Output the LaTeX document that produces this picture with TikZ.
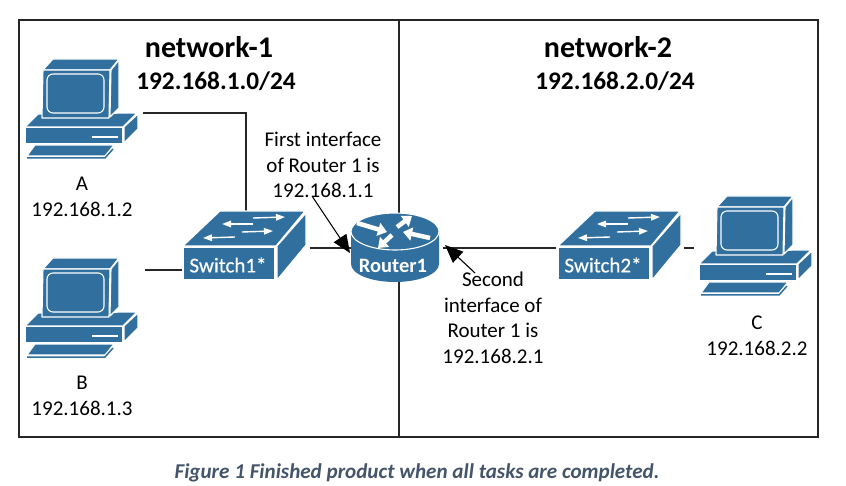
\documentclass[tikz,border=0pt]{standalone}
\usepackage{fontspec}
\setmainfont{Carlito}
\newfontfamily\devfont[FakeBold=0.5]{Carlito}
\usetikzlibrary{arrows.meta}
\definecolor{netblue}{HTML}{31709E}
\definecolor{captionblue}{HTML}{44546A}
\tikzset{
  face/.style={fill=netblue, draw=white, line width=1.1pt, line join=round},
  label/.style={font=\fontsize{21}{25.5}\selectfont, align=center, text=black},
  title/.style={font=\fontsize{30}{34}\selectfont\bfseries},
  subtitle/.style={font=\fontsize{25.3}{30}\selectfont\bfseries},
  link/.style={line width=1.1pt, draw=black!85},
  pointer/.style={line width=1.1pt, -{Triangle[length=18pt,width=15pt]}},
  swarrow/.style={draw=white, line width=1.4pt, -{Triangle[length=9pt,width=6.5pt]}},
  rtarrow/.style={draw=white, line width=4.5pt, -{Triangle[length=9pt,width=13pt]}},
  computer/.pic={
    \draw[face] (0,68) -- (13,55) -- (112,54) -- (98,68) -- cycle;
    \draw[face] (0,68.5) rectangle (98,85);
    \draw[face] (99,68) -- (113,55) -- (113,70) -- (99,84) -- cycle;
    \draw[white, line width=1.5pt] (67,78) -- (93,78);
    \draw[face] (18,11) -- (28,0) -- (94,0) -- (85,11) -- cycle;
    \draw[face] (18,11) -- (85,11) -- (84,59) -- (17,59) -- cycle;
    \draw[face] (86,11) -- (94,1) -- (94,49) -- (85,58) -- cycle;
    \draw[white, line width=1.1pt, rounded corners=6pt] (22,15) rectangle (79,54);
    \draw[face] (10,86) -- (89,86) -- (80,97) -- (2,97) -- cycle;
    \draw[netblue, line width=1.5pt] (2,99) -- (80,99) -- (88,90);
  },
  switchbox/.pic={
    \draw[face] (0,0) -- (37,-35) -- (122,-35) -- (93,0) -- cycle;
    \draw[face] (0,1) rectangle (92,34);
    \draw[face] (94,0) -- (123,-33) -- (123,-1) -- (94,34) -- cycle;
    \draw[swarrow] (70,-28) -- (102,-29);
    \draw[swarrow] (70,-22) -- (39,-22);
    \draw[swarrow] (59,-14) -- (90,-15);
    \draw[swarrow] (52,-9) -- (20,-8);
    \node[text=white, font=\fontsize{21}{24}\devfont\selectfont] (-name) at (45,19) {#1};
  },
  routerbox/.pic={
    \fill[netblue] (-44,0) -- (-44,32.5) arc[start angle=180, end angle=0, x radius=44, y radius=18] -- (44,0) -- cycle;
    \draw[face] (0,0) ellipse[x radius=44, y radius=18.5];
    \draw[rtarrow] (-38,-8.5) -- (-8,0.5);
    \draw[rtarrow] (2,-4.5) -- (17,-15.5);
    \draw[rtarrow] (35,6.5) -- (8,0.5);
    \draw[rtarrow] (-3,3.5) -- (-17,16.5);
    \node[text=white, font=\fontsize{20.5}{24}\selectfont\bfseries] (-name) at (-2,34) {#1};
  },
}
\begin{document}
\begin{tikzpicture}[x=1pt,y=-1pt]
  \useasboundingbox (0,0) rectangle (846,486);
  % frame and divider
  \draw[line width=1.3pt, draw=black!85] (19,20) rectangle (818,437);
  \draw[line width=1.3pt, draw=black!85] (399,20) -- (399,437);
  % free ends of the links
  \coordinate (portA) at (143,113);
  \coordinate (portB) at (145,270);
  \coordinate (portC) at (694,248);
  \coordinate (sw1top) at (246,211);
  \coordinate (sw1left) at (182,270);
  \coordinate (sw1right) at (310,248);
  \coordinate (sw2left) at (556,248);
  \coordinate (sw2right) at (684,248);
  \coordinate (rtleft) at (351,248);
  \coordinate (rtright) at (443,248);
  \draw[link] (portA) -| (sw1top);
  \draw[link] (portB) -- (sw1left);
  \draw[link] (sw1right) -- (rtleft);
  \draw[link] (rtright) -- (sw2left);
  \draw[link] (sw2right) -- (portC);
  % devices
  \pic (pcA) at (25,59) {computer};
  \pic (pcB) at (25,258) {computer};
  \pic (pcC) at (699,196) {computer};
  \pic (sw1) at (183,246) {switchbox={Switch1*}};
  \pic (sw2) at (558,246) {switchbox={Switch2*}};
  \pic (rt1) at (395,231.5) {routerbox={Router1}};
  % texts
  \node[title] (net1) at (209,47) {network-1};
  \node[subtitle] (addr1) at (216,81) {192.168.1.0/24};
  \node[title] (net2) at (608,47) {network-2};
  \node[subtitle] (addr2) at (615,81) {192.168.2.0/24};
  \node[label] (lblA) at (82,197) {A\\192.168.1.2};
  \node[label] (lblB) at (82,396) {B\\192.168.1.3};
  \node[label] (lblC) at (757,336) {C\\192.168.2.2};
  \node[label] (first) at (323,165) {First interface\\of Router 1 is\\192.168.1.1};
  \node[label] (second) at (493,318) {Second\\interface of\\Router 1 is\\192.168.2.1};
  \node[font=\fontsize{21.1}{25}\selectfont\bfseries\itshape, text=captionblue] (caption) at (417,473) {Figure 1 Finished product when all tasks are completed.};
  % arrows to the router
  \coordinate (firsttail) at (312,196);
  \coordinate (firsthead) at (350,253);
  \coordinate (secondtail) at (475,273);
  \coordinate (secondhead) at (445,245);
  \draw[pointer] (firsttail) -- (firsthead);
  \draw[pointer] (secondtail) -- (secondhead);
\end{tikzpicture}
\end{document}
